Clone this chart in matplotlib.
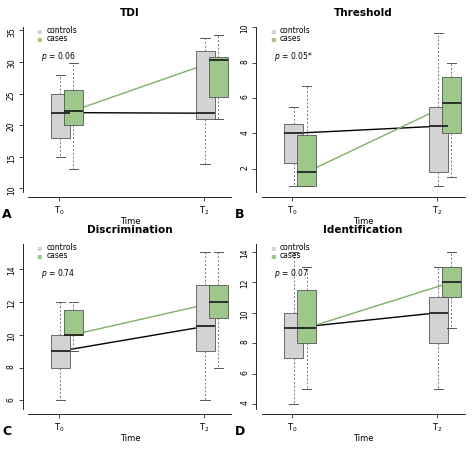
import matplotlib.pyplot as plt

titles = ['TDI', 'Threshold', 'Discrimination', 'Identification']
letters = ['A', 'B', 'C', 'D']
pvals = ['0.06', '0.05*', '0.74', '0.07']
times = ['T$_0$', 'T$_2$']
# stats per panel: [T0, T2], each (whislo, q1, med, q3, whishi)
controls = [
    [(15, 18, 22, 25, 28), (13.8, 21, 21.9, 31.8, 33.8)],
    [(1, 2.3, 4, 4.5, 5.5), (1, 1.8, 4.4, 5.5, 9.7)],
    [(6, 8, 9, 10, 12), (6, 9, 10.5, 13, 15)],
    [(4, 7, 9, 10, 14), (5, 8, 10, 11, 13)],
]
cases = [
    [(13, 20, 22.3, 25.6, 29.8), (21, 24.5, 30.3, 30.8, 34.3)],
    [(1, 1, 1.8, 3.9, 6.7), (1.5, 4, 5.7, 7.2, 8)],
    [(9, 10, 10, 11.5, 12), (8, 11, 12, 13, 15)],
    [(5, 8, 9, 11.5, 13), (9, 11, 12, 13, 14)],
]
ylims = [(9.5, 35.5), (0.7, 10), (5.5, 15.5), (3.7, 14.5)]
yticks = [range(10, 36, 5), range(2, 11, 2), range(6, 15, 2), range(4, 15, 2)]

gray = '#d3d3d3'
green = '#9dc88a'

fig, axes = plt.subplots(2, 2, figsize=(4.74, 4.54), dpi=100)
xs = [0, 1]
for i, ax in enumerate(axes.flat):
    for stats, off, col, lc in [(controls[i], 0.01, gray, 'black'), (cases[i], 0.10, green, '#7fb069')]:
        bxp = []
        for s in stats:
            bxp.append(dict(whislo=s[0], q1=s[1], med=s[2], q3=s[3], whishi=s[4], fliers=[]))
        pos = [x + off for x in xs]
        ax.bxp(bxp, positions=pos, widths=0.13, patch_artist=True, showfliers=False,
               boxprops=dict(facecolor=col, edgecolor='#555555', linewidth=0.6),
               medianprops=dict(color='#222222', linewidth=1.3),
               whiskerprops=dict(color='#777777', linestyle=(0, (2, 2)), linewidth=0.7),
               capprops=dict(color='#555555', linewidth=0.7))
        ax.plot(pos, [s[2] for s in stats], color=lc, linewidth=1.0, zorder=1)
    ax.set_xlim(-0.21, 1.19)
    ax.set_ylim(*ylims[i])
    ax.set_xticks(xs)
    ax.set_xticklabels(times)
    ax.set_yticks(list(yticks[i]))
    ax.tick_params(axis='y', labelsize=5.5, labelrotation=90, length=3, width=0.5, pad=2)
    ax.tick_params(axis='x', labelsize=6, length=3, width=0.5, pad=2)
    for lab in ax.get_yticklabels():
        lab.set_va('center')
    ax.spines['top'].set_visible(False)
    ax.spines['right'].set_visible(False)
    ax.spines['left'].set_position(('outward', 4))
    ax.spines['bottom'].set_position(('outward', 4))
    for sp in ax.spines.values():
        sp.set_linewidth(0.6)
    ax.set_title(titles[i], fontsize=7.5, fontweight='bold', pad=8)
    ax.set_xlabel('Time', fontsize=6, labelpad=0)
    ax.text(-0.13, -0.1, letters[i], transform=ax.transAxes, fontsize=9, fontweight='bold', va='top')
    ax.text(0.04, 0.98, '\u25aa', color=gray, transform=ax.transAxes, fontsize=6, va='center')
    ax.text(0.09, 0.98, 'controls', transform=ax.transAxes, fontsize=5.5, va='center')
    ax.text(0.04, 0.93, '\u25aa', color=green, transform=ax.transAxes, fontsize=6, va='center')
    ax.text(0.09, 0.93, 'cases', transform=ax.transAxes, fontsize=5.5, va='center')
    ax.text(0.06, 0.82, '$p$ = ' + pvals[i], transform=ax.transAxes, fontsize=5.5, va='center')

fig.subplots_adjust(left=0.06, right=0.98, top=0.94, bottom=0.1, wspace=0.15, hspace=0.32)
fig.savefig('out.png', dpi=100)
